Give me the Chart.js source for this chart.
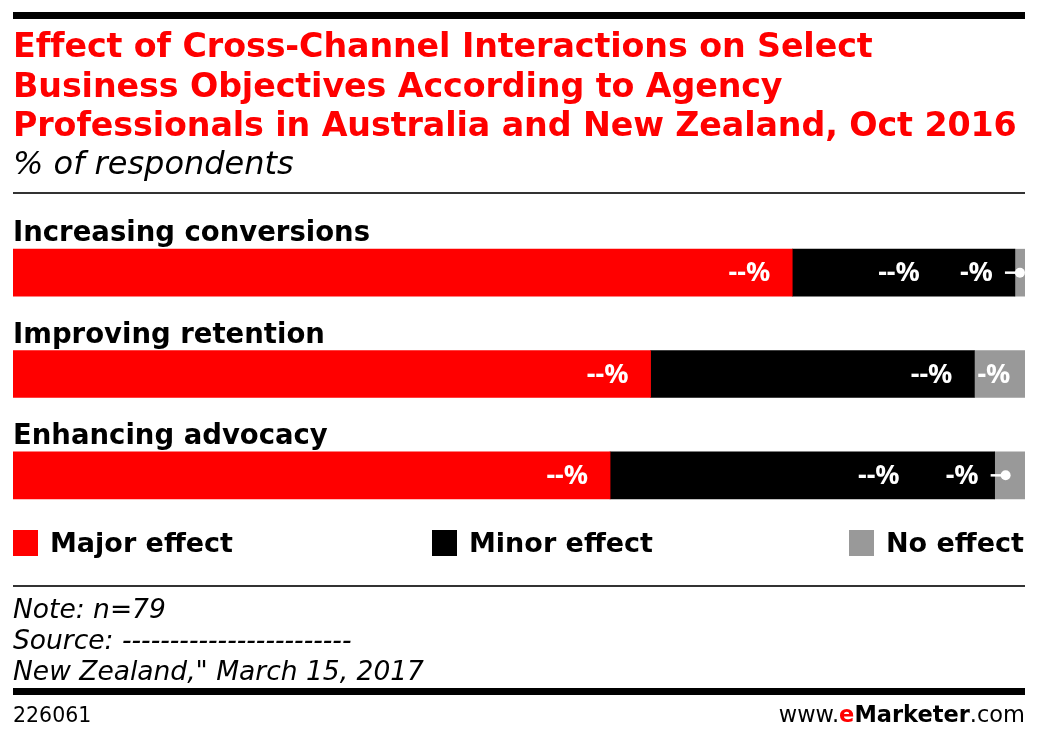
<!DOCTYPE html>
<html>
<head>
<meta charset="utf-8">
<script src="https://cdn.jsdelivr.net/npm/chart.js@4"></script>
<style>
  html, body { margin: 0; padding: 0; background: #fff; }
  #wrap { position: relative; width: 1038px; height: 741px; overflow: hidden; font-family: "DejaVu Sans", sans-serif; }
  #chartBox { position: absolute; left: 0; top: 0; width: 1038px; height: 741px; }
  .rule { position: absolute; left: 13px; width: 1012px; background: #000; }
  .txt { position: absolute; left: 13px; white-space: nowrap; }
  #title { top: 26px; font-size: 33.3px; font-weight: 700; color: #ff0000; line-height: 39.5px; letter-spacing: -0.1px; }
  #subtitle { top: 147px; font-size: 32px; font-style: italic; color: #000; line-height: 32px; }
  .leg { position: absolute; top: 530px; height: 26px; font-size: 27px; font-weight: 700; color: #000; white-space: nowrap; line-height: 26px; }
  .leg span.sw { position: absolute; left: 0; top: 0; width: 25px; height: 26px; }
  .leg span.lt { position: absolute; left: 37px; top: 0; }
  #notes { top: 593px; font-size: 26.5px; font-style: italic; line-height: 31px; color: #000; }
  #foot1 { top: 705px; font-size: 20.5px; line-height: 20.5px; color: #000; }
  #foot2 { position: absolute; top: 703px; right: 13px; font-size: 22.5px; line-height: 22.5px; color: #000; white-space: nowrap; }
</style>
</head>
<body>
<div id="wrap">
  <div id="chartBox"><canvas id="c"></canvas></div>
  <div class="rule" style="top:12px;height:7px;"></div>
  <div id="title" class="txt">Effect of Cross-Channel Interactions on Select<br>Business Objectives According to Agency<br>Professionals in Australia and New Zealand, Oct 2016</div>
  <div id="subtitle" class="txt">% of respondents</div>
  <div class="rule" style="top:192px;height:2px;background:#333;"></div>
  <div id="legend"></div>
  <div class="rule" style="top:585px;height:2px;background:#333;"></div>
  <div id="notes" class="txt">Note: n=79<br>Source: ------------------------<br>New Zealand," March 15, 2017</div>
  <div class="rule" style="top:688px;height:7px;"></div>
  <div id="foot1" class="txt">226061</div>
  <div id="foot2">www.<b style="color:#ff0000">e</b><b>Marketer</b>.com</div>
</div>
<script>
// ---- data ----
const categories = ["Increasing conversions", "Improving retention", "Enhancing advocacy"];
const seriesNames = ["Major effect", "Minor effect", "No effect"];
const majorEffect = [77, 63, 59];
const minorEffect = [22, 32, 38];
const noEffect = [1, 5, 3];
const seriesColors = ["#ff0000", "#000000", "#999999"];
const legendX = [13, 432, 849];

// legend (HTML)
const legEl = document.getElementById('legend');
seriesNames.forEach((n, i) => {
  const d = document.createElement('div');
  d.className = 'leg';
  d.style.left = legendX[i] + 'px';
  d.innerHTML = '<span class="sw" style="background:' + seriesColors[i] + '"></span><span class="lt">' + n + '</span>';
  legEl.appendChild(d);
});

// masked value label as in the reference
function maskLabel(v) { return '-'.repeat(String(v).length) + '%'; }

const labelPlugin = {
  id: 'labelPlugin',
  afterDatasetsDraw(chart) {
    const ctx = chart.ctx;
    const n = chart.data.labels.length;
    ctx.save();
    // category labels above the bars
    const m0 = chart.getDatasetMeta(0);
    ctx.font = 'bold 27.5px "DejaVu Sans", sans-serif';
    ctx.fillStyle = '#000';
    ctx.textBaseline = 'alphabetic';
    ctx.textAlign = 'left';
    for (let i = 0; i < n; i++) {
      const el = m0.data[i];
      const top = el.y - el.height / 2;
      ctx.fillText(chart.data.labels[i], chart.chartArea.left, top - 8);
    }
    // value labels
    ctx.font = '700 27px "Open Sans", sans-serif';
    ctx.textBaseline = 'middle';
    for (let i = 0; i < n; i++) {
      const segs = chart.data.datasets.map((ds, j) => {
        const el = chart.getDatasetMeta(j).data[i];
        const start = Math.min(el.base, el.x), end = Math.max(el.base, el.x);
        const text = maskLabel(ds.data[i]);
        const tw = ctx.measureText(text).width;
        const w = end - start;
        let mode = 'right';
        if (w < tw + 44) mode = (w >= tw + 6) ? 'inner' : 'outside';
        return { start, end, text, tw, w, y: el.y, mode };
      });
      segs.forEach((s, j) => {
        ctx.fillStyle = '#fff';
        const next = segs[j + 1];
        if (s.mode === 'right') {
          ctx.textAlign = 'right';
          const xr = (next && next.mode === 'outside') ? s.end - 95 : s.end - 22;
          ctx.fillText(s.text, xr, s.y + 1);
        } else if (s.mode === 'inner') {
          ctx.textAlign = 'left';
          ctx.fillText(s.text, s.start + 3, s.y + 1);
        } else {
          const dotX = s.start + Math.min(s.w / 2, 11);
          ctx.strokeStyle = '#fff';
          ctx.lineWidth = 2.5;
          ctx.beginPath();
          ctx.moveTo(dotX - 15, s.y);
          ctx.lineTo(dotX, s.y);
          ctx.stroke();
          ctx.beginPath();
          ctx.arc(dotX, s.y, 5, 0, Math.PI * 2);
          ctx.fill();
          ctx.textAlign = 'right';
          ctx.fillText(s.text, dotX - 27, s.y + 1);
        }
      });
    }
    ctx.restore();
  }
};

new Chart(document.getElementById('c'), {
  type: 'bar',
  data: {
    labels: categories,
    datasets: [
      { label: seriesNames[0], data: majorEffect, backgroundColor: seriesColors[0] },
      { label: seriesNames[1], data: minorEffect, backgroundColor: seriesColors[1] },
      { label: seriesNames[2], data: noEffect, backgroundColor: seriesColors[2] }
    ]
  },
  options: {
    indexAxis: 'y',
    responsive: true,
    maintainAspectRatio: false,
    animation: false,
    devicePixelRatio: 1,
    layout: { padding: { left: 13, right: 13, top: 222, bottom: 215 } },
    datasets: { bar: { barThickness: 47, borderWidth: 0 } },
    scales: {
      x: { stacked: true, min: 0, max: 100, display: false },
      y: { stacked: true, display: false }
    },
    plugins: { legend: { display: false }, tooltip: { enabled: false } }
  },
  plugins: [labelPlugin]
});
</script>
</body>
</html>
